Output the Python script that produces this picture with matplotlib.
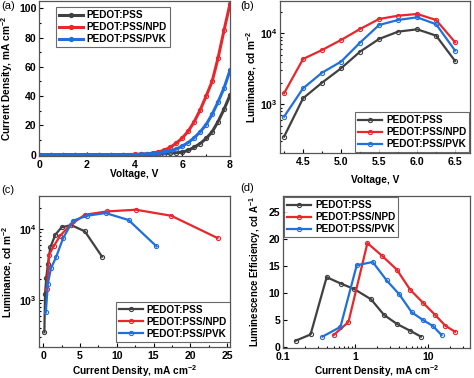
import matplotlib
matplotlib.use("Agg")
import matplotlib.pyplot as plt
from matplotlib.ticker import FuncFormatter, MultipleLocator

plt.rcParams['font.family'] = ['Liberation Sans', 'DejaVu Sans']
plt.rcParams['font.weight'] = 'bold'
plt.rcParams['axes.labelweight'] = 'bold'
plt.rcParams['mathtext.fontset'] = 'custom'
plt.rcParams['mathtext.rm'] = 'Liberation Sans:bold'
plt.rcParams['mathtext.bf'] = 'Liberation Sans:bold'
plt.rcParams['mathtext.it'] = 'Liberation Sans:bold'
plt.rcParams['mathtext.default'] = 'bf'

names = ['PEDOT:PSS', 'PEDOT:PSS/NPD', 'PEDOT:PSS/PVK']
colors = ['#404040', '#e8272c', '#1f6fdc']

# (a) J-V
v_jv = [0, 0.5, 1.0, 1.5, 2.0, 2.5, 3.0, 3.5, 4.0, 4.25, 4.5, 4.75, 5.0, 5.25, 5.5,
        5.75, 6.0, 6.25, 6.5, 6.75, 7.0, 7.25, 7.5, 7.75, 8.0]
j_pss = [0, 0, 0, 0, 0, 0, 0, 0, 0, 0, 0, 0.1, 0.3, 0.6, 1.0,
         1.3, 1.6, 2.9, 5.0, 7.5, 11.0, 15.5, 22.5, 31.0, 40.5]
j_npd = [0, 0, 0, 0, 0, 0, 0, 0, 0.1, 0.3, 0.5, 1.0, 1.8, 3.0, 5.0,
         7.8, 11.3, 16.0, 22.5, 30.5, 40.0, 50.0, 66.0, 85.0, 103.0]
j_pvk = [0, 0, 0, 0, 0, 0, 0, 0, 0, 0.1, 0.3, 0.6, 1.0, 1.7, 2.5,
         3.8, 5.8, 8.2, 11.5, 15.5, 20.5, 27.5, 36.0, 45.5, 57.5]

# (b) L-V
v_lv = [4.25, 4.5, 4.75, 5.0, 5.25, 5.5, 5.75, 6.0, 6.25, 6.5]
l_pss = [351, 1216, 2018, 3214, 5520, 8320, 10550, 11380, 9270, 4070]
l_npd = [1430, 4350, 5820, 8060, 11500, 15900, 17700, 18700, 15400, 7470]
l_pvk = [670, 1680, 2790, 3990, 7400, 13100, 15400, 16800, 13400, 5700]

# current density at each voltage step, mA/cm2
jd_pss = [0.15, 0.24, 0.40, 0.63, 0.96, 1.64, 2.48, 3.78, 5.66, 8.0]
jd_npd = [0.50, 0.80, 1.46, 2.30, 3.71, 5.66, 8.64, 12.6, 17.4, 23.7]
jd_pvk = [0.35, 0.62, 1.04, 1.73, 2.69, 4.03, 5.97, 8.47, 11.6, 15.4]

# (d) luminescence efficiency, cd/A
eff_pss = [1.16, 2.3, 12.9, 11.7, 10.7, 8.8, 5.9, 4.2, 3.0, 1.9]
eff_npd = [2.2, 4.6, 19.2, 16.9, 14.3, 10.6, 8.1, 5.9, 3.9, 2.8]
eff_pvk = [1.9, 3.7, 15.1, 15.7, 12.3, 9.7, 6.4, 5.0, 3.9, 2.2]

W, H = 474, 378
fig = plt.figure(figsize=(4.74, 3.78), dpi=100)


def box(l, t, r, b):
    return [l / W, 1 - b / H, (r - l) / W, (b - t) / H]


ax_a = fig.add_axes(box(39.3, 1, 230, 156))
ax_b = fig.add_axes(box(280.3, 1, 470.3, 153.3))
ax_c = fig.add_axes(box(39.3, 196, 230, 347))
ax_d = fig.add_axes(box(283, 196, 470, 348))

mk = dict(marker='o', markerfacecolor='none', markersize=3, markeredgewidth=0.8)

for jj, c, n in zip([j_pss, j_npd, j_pvk], colors, names):
    ax_a.plot(v_jv, jj, color=c, lw=2.2, label=n, **mk)
for ll, c, n in zip([l_pss, l_npd, l_pvk], colors, names):
    ax_b.plot(v_lv, ll, color=c, lw=1.6, label=n, **mk)
for jj, ll, c, n in zip([jd_pss, jd_npd, jd_pvk], [l_pss, l_npd, l_pvk], colors, names):
    ax_c.plot(jj, ll, color=c, lw=1.6, label=n, **mk)
for jj, ee, c, n in zip([jd_pss, jd_npd, jd_pvk], [eff_pss, eff_npd, eff_pvk], colors, names):
    ax_d.plot(jj, ee, color=c, lw=1.6, label=n, **mk)

lab = dict(fontsize=7.3, fontweight='bold')

ax_a.set_xlim(0, 8)
ax_a.set_ylim(-1, 105)
ax_a.xaxis.set_major_locator(MultipleLocator(2))
ax_a.xaxis.set_minor_locator(MultipleLocator(1))
ax_a.yaxis.set_major_locator(MultipleLocator(20))
ax_a.yaxis.set_minor_locator(MultipleLocator(10))
ax_a.set_xlabel('Voltage, V', **lab)
ax_a.set_ylabel('Current Density, mA cm$^{-2}$', **lab)

ax_b.set_yscale('log')
ax_b.set_xlim(4.2, 6.7)
ax_b.set_ylim(204, 28500)
ax_b.xaxis.set_major_locator(MultipleLocator(0.5))
ax_b.xaxis.set_minor_locator(MultipleLocator(0.25))
ax_b.set_xlabel('Voltage, V', **lab)
ax_b.set_ylabel('Luminance, cd m$^{-2}$', **lab)

ax_c.set_yscale('log')
ax_c.set_xlim(-0.54, 25.4)
ax_c.set_ylim(218, 29200)
ax_c.xaxis.set_major_locator(MultipleLocator(5))
ax_c.xaxis.set_minor_locator(MultipleLocator(2.5))
ax_c.set_xlabel('Current Density, mA cm$^{-2}$', **lab)
ax_c.set_ylabel('Luminance, cd m$^{-2}$', **lab)

ax_d.set_xscale('log')
ax_d.set_xlim(0.1, 38)
ax_d.set_ylim(-0.2, 27.9)
ax_d.xaxis.set_major_formatter(FuncFormatter(lambda v, p: '%g' % v))
ax_d.yaxis.set_major_locator(MultipleLocator(5))
ax_d.set_xlabel('Current Density, mA cm$^{-2}$', **lab)
ax_d.set_ylabel('Luminescence Efficiency, cd A$^{-1}$', fontsize=6.9, fontweight='bold')

for ax in [ax_a, ax_b, ax_c, ax_d]:
    ax.tick_params(which='both', direction='in', labelsize=7.6, width=0.8)
    ax.tick_params(axis='x', which='both', pad=3)
    ax.tick_params(axis='y', which='both', pad=2)
    ax.tick_params(which='major', length=3)
    ax.tick_params(which='minor', length=1.5)
    for t in ax.get_xticklabels() + ax.get_yticklabels():
        t.set_fontweight('bold')
    for s in ax.spines.values():
        s.set_linewidth(0.9)
        s.set_color('#555555')


# label positions in pixels of the reference
def place(ax, xl_y, yl_x):
    l, b, w, h = ax.get_position().bounds
    ax.xaxis.set_label_coords(0.5, ((1 - xl_y / H) - b) / h)
    ax.yaxis.set_label_coords(((yl_x / W) - l) / w, 0.5)
    ax.xaxis.label.set_va('center')
    ax.yaxis.label.set_va('center')


place(ax_a, 174, 7)
place(ax_b, 179.5, 252)
place(ax_c, 371.5, 8)
place(ax_d, 371.5, 255)

leg_kw = dict(frameon=True, fancybox=False, edgecolor='#444444',
              handlelength=2.4, handletextpad=0.4, borderpad=0.3, labelspacing=0.2,
              prop={'weight': 'bold', 'size': 7.2})
la = ax_a.legend(loc='upper left', bbox_to_anchor=(0.07, 0.98), borderaxespad=0.3, **leg_kw)
lb = ax_b.legend(loc='lower right', borderaxespad=0.1, **leg_kw)
lc = ax_c.legend(loc='lower right', bbox_to_anchor=(1.0, 0.035), borderaxespad=0.0, **leg_kw)
ld = ax_d.legend(loc='upper left', borderaxespad=0.1, **leg_kw)
for lg in [la, lb, lc, ld]:
    lg.get_frame().set_linewidth(0.8)

fig.text(1 / W, 1 - 6 / H, '(a)', fontsize=8, fontweight='normal', va='center', ha='left')
fig.text(240 / W, 1 - 6 / H, '(b)', fontsize=8, fontweight='normal', va='center', ha='left')
fig.text(1 / W, 1 - 190 / H, '(c)', fontsize=8, fontweight='normal', va='center', ha='left')
fig.text(240 / W, 1 - 188 / H, '(d)', fontsize=8, fontweight='normal', va='center', ha='left')

fig.savefig('out.png', dpi=100)
